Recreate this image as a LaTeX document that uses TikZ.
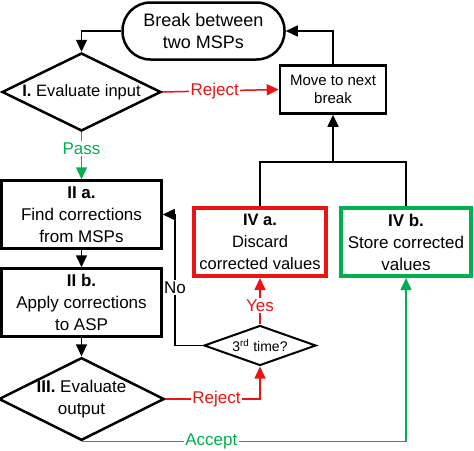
\documentclass[tikz,border=0pt]{standalone}
\usepackage{fontspec}
\setmainfont{Liberation Sans}
\usetikzlibrary{arrows.meta,shapes.geometric}
\definecolor{rejred}{RGB}{235,20,20}
\definecolor{accgreen}{RGB}{0,176,80}

\begin{document}
\begin{tikzpicture}[x=1pt, y=-1pt,
    every node/.style={font=\fontsize{17}{22}\selectfont, align=center, inner sep=0pt},
    box/.style={draw, line width=2.5pt, minimum width=160pt, minimum height=68pt},
    decide/.style={draw, shape=diamond, line width=2.5pt, aspect=2},
    flow/.style={line width=1.5pt, -{Triangle[length=12pt,width=11pt]}},
    lbl/.style={fill=white, inner sep=1.5pt}]
                        \useasboundingbox (0,0) rectangle (474,450);

                        \node[draw, line width=2.5pt, rounded corners=28pt, minimum width=162pt, minimum height=57pt, font=\fontsize{18}{22}\selectfont] (start) at (203.5,31) {Break between\\two MSPs};
                        \node[decide, minimum width=159pt, minimum height=78pt, font=\fontsize{16.5}{22}\selectfont] (evalin) at (81.5,92) {\textbf{I.} Evaluate input};
                        \node[draw, line width=2.5pt, minimum width=106pt, minimum height=48pt, font=\fontsize{15}{18}\selectfont] (move) at (333,89.5) {Move to next\\break};
                        \node[box] (iia) at (81.5,214.5) {\textbf{II a.}\\Find corrections\\from MSPs};
                        \node[box] (iib) at (81.5,302.5) {\textbf{II b.}\\Apply corrections\\to ASP};
                        \node[decide, minimum width=159pt, minimum height=78pt] (evalout) at (81.5,399) {\textbf{III.} Evaluate\\output};
                        \node[decide, line width=2pt, minimum width=112pt, minimum height=35pt, font=\fontsize{14}{16}\selectfont] (third) at (260,345.5) {3\textsuperscript{rd} time?};
                        \node[box, draw=rejred, line width=4pt, minimum width=132pt, minimum height=68pt, font=\fontsize{16.5}{22}\selectfont] (iva) at (260,242) {\textbf{IV a.}\\Discard\\corrected values};
                        \node[box, draw=accgreen, line width=4pt, minimum width=130pt, minimum height=68pt] (ivb) at (406,242) {\textbf{IV b.}\\Store corrected\\values};
                        \coordinate (join) at (333,162);
                        \coordinate (noturn) at (175,345.5);

                        \draw[flow] (start.west) -| (evalin.north);
                        \draw[flow, rejred] (evalin.east) -- node[lbl, pos=0.45] (rej1) {Reject} (move.west);
                        \draw[flow, accgreen] (evalin.south) -- node[lbl, pos=0.35] (pass) {Pass} (iia.north);
                        \draw[flow] (iia.south) -- (iib.north);
                        \draw[flow] (iib.south) -- (evalout.north);
                        \draw[flow, rejred] (evalout.east) -| node[lbl, pos=0.27] (rej2) {Reject} (third.south);
                        \draw[flow, accgreen] (evalout.south) -| node[lbl, pos=0.2] (acc) {Accept} (ivb.south);
                        \draw[flow, rejred] (third.north) -- node[lbl, pos=0.4] (yes) {Yes} (iva.south);
                        \draw[flow, black] (third.west) -- (noturn) |- node[lbl, pos=0.22] (no) {No} (iia.east);
                        \draw[line width=1.5pt] (iva.north) |- (join) -| (ivb.north);
                        \draw[flow] (join) -- (move.south);
                        \draw[flow] (move.north) |- (start.east);

                    \end{tikzpicture}
\end{document}
